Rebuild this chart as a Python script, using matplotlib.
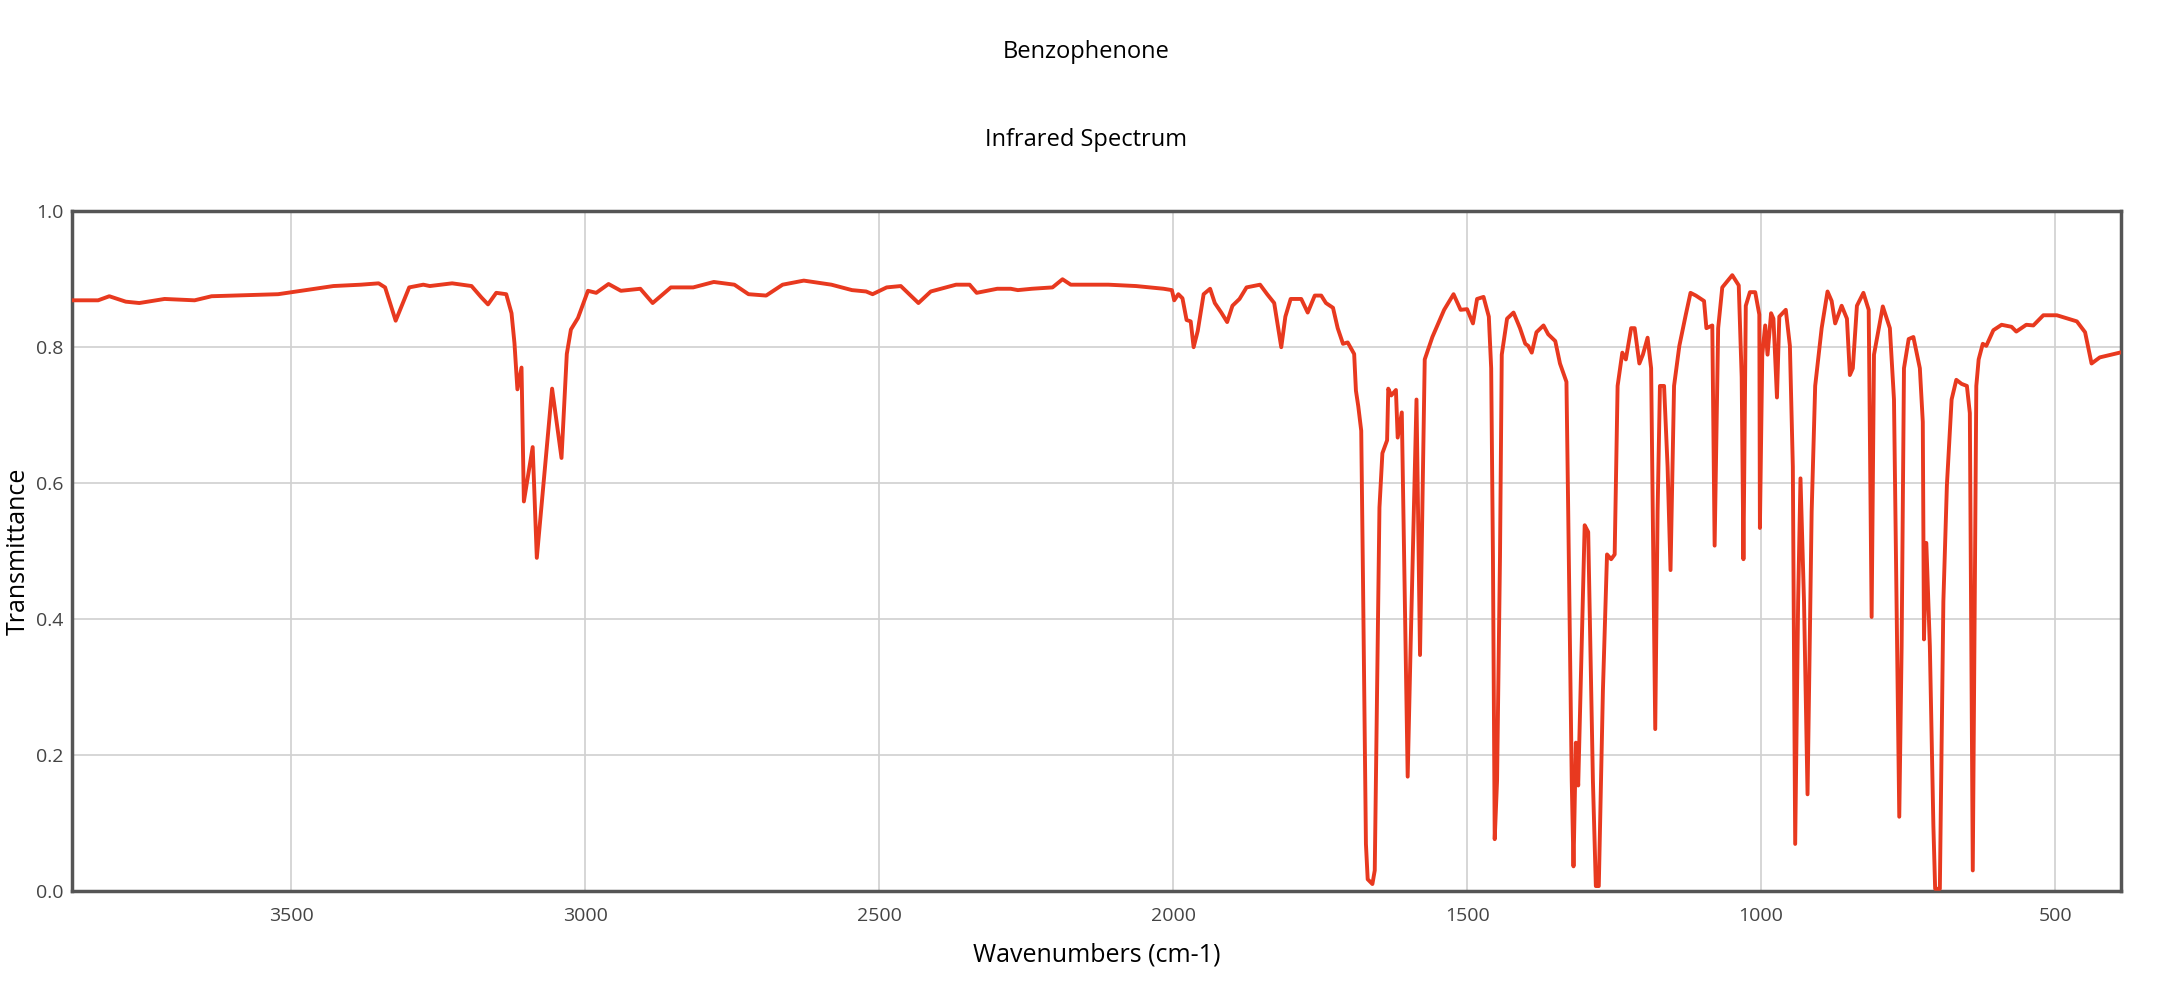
import matplotlib.pyplot as plt

# Wavenumbers (cm-1) and transmittance
wavenumbers = [
    3871, 3828, 3809, 3781, 3758, 3715, 3664, 3635, 3522, 3428, 3381, 3351,
    3340, 3322, 3299, 3275, 3264, 3226, 3193, 3176, 3165, 3151, 3134, 3125,
    3120, 3115, 3108, 3104, 3089, 3082, 3056, 3040, 3031, 3024, 3012, 2995,
    2981, 2960, 2939, 2906, 2885, 2854, 2816, 2781, 2746, 2722, 2692, 2664,
    2628, 2581, 2546, 2522, 2511, 2487, 2463, 2433, 2412, 2369, 2346, 2334,
    2299, 2276, 2264, 2240, 2205, 2188, 2174, 2110, 2063, 2016, 2002, 1998,
    1991, 1984, 1977, 1970, 1965, 1958, 1948, 1937, 1929, 1918, 1908, 1899,
    1887, 1875, 1852, 1840, 1828, 1816, 1809, 1800,
    1782, 1771, 1759, 1748, 1740, 1728, 1720, 1711, 1703, 1692, 1689, 1685,
    1680, 1677, 1672, 1669, 1661, 1657, 1649, 1644, 1636, 1634, 1629, 1621,
    1618, 1611, 1601, 1596, 1586, 1580, 1572, 1559, 1539, 1523, 1511, 1500,
    1490, 1483, 1472, 1463, 1459, 1456, 1453, 1449, 1444, 1441, 1432, 1421,
    1410, 1401, 1396, 1390, 1382, 1370, 1362, 1350, 1342, 1331, 1328, 1322,
    1319, 1315, 1311, 1300, 1294, 1286, 1281, 1276, 1269, 1262, 1255, 1249,
    1244, 1236, 1230, 1221, 1215, 1207, 1201, 1193, 1187, 1180, 1176, 1172,
    1165, 1159, 1154, 1148, 1139, 1128, 1120, 1111, 1097, 1093, 1083, 1079,
    1073, 1066, 1049, 1038, 1033, 1030, 1026, 1019, 1010, 1003, 1002, 998,
    993, 989, 983, 979, 973, 969, 958, 951, 946, 942, 937, 933, 927, 921,
    914, 908, 897, 887, 880, 874, 863, 854, 849, 844, 837, 826, 817, 812,
    808, 793, 781, 774, 765, 761, 757, 749, 741, 730, 725, 723, 719, 713,
    707, 704, 696, 690, 684, 676, 668, 659, 650, 645, 640, 634, 630, 623,
    617, 605, 591, 574, 566, 549, 537, 520, 497, 463, 449, 438, 424, 390,
]
transmittance = [
    .869, .869, .875, .867, .865, .871, .869, .875, .878, .890, .892, .894,
    .888, .839, .888, .892, .890, .894, .890, .873, .863, .880, .878, .850,
    .806, .738, .770, .573, .653, .490, .739, .637, .790, .826, .843, .883,
    .880, .893, .883, .886, .865, .888, .888, .896, .892, .878, .876, .892,
    .898, .892, .884, .882, .878, .888, .890, .865, .882, .892, .892, .880,
    .886, .886, .884, .886, .888, .900, .892, .892, .890, .886, .884, .869,
    .878, .872, .840, .838, .800, .824, .878, .886, .865, .851, .837, .861,
    .871, .888, .892, .878, .865, .800, .845, .871,
    .871, .851, .876, .876, .865, .858, .828, .805, .807, .790, .736, .713,
    .677, .459, .069, .017, .010, .030, .564, .644, .663, .739, .729, .737,
    .667, .704, .168, .360, .723, .347, .782, .815, .855, .878, .855, .856,
    .835, .871, .874, .845, .769, .492, .076, .162, .492, .789, .842, .851,
    .828, .805, .802, .792, .822, .832, .819, .809, .776, .749, .558, .162,
    .036, .218, .155, .538, .528, .162, .007, .007, .294, .495, .488, .495,
    .743, .792, .782, .828, .828, .776, .789, .814, .769, .238, .558, .743,
    .743, .624, .472, .743, .802, .848, .880, .876, .868, .828, .832, .508,
    .828, .888, .906, .891, .756, .488, .861, .881, .881, .848, .534, .789,
    .832, .789, .850, .842, .726, .845, .855, .802, .624, .069, .426, .607,
    .426, .142, .558, .743, .828, .882, .868, .835, .861, .842, .759, .769,
    .861, .880, .855, .403, .789, .860, .828, .723, .109, .360, .769, .812,
    .815, .769, .690, .370, .512, .360, .096, .003, .003, .426, .597, .723,
    .752, .746, .743, .703, .030, .743, .782, .805, .802, .825, .833, .830,
    .823, .833, .832, .847, .847, .838, .822, .776, .785, .792,
]
x_ticks = [3500, 3000, 2500, 2000, 1500, 1000, 500]
y_ticks = [0.0, 0.2, 0.4, 0.6, 0.8, 1.0]

plt.rcParams['font.family'] = ['Open Sans', 'DejaVu Sans']

fig = plt.figure(figsize=(21.72, 9.92), dpi=100)
ax = fig.add_axes([0.033, 0.102, 0.9435, 0.685])

ax.plot(wavenumbers, transmittance, color='#e8391f', linewidth=2.8, zorder=3)

ax.set_xlim(3873, 388)
ax.set_ylim(0, 1)
ax.set_xticks(x_ticks)
ax.set_yticks(y_ticks)
ax.set_yticklabels([f'{v:.1f}' for v in y_ticks])
ax.tick_params(length=0, labelsize=14, colors='#444444')
ax.tick_params(axis='x', pad=12)
ax.tick_params(axis='y', pad=6)
ax.grid(True, color='#d0d0d0', linewidth=1.2)
for s in ax.spines.values():
    s.set_color('#555555')
    s.set_linewidth(2.5)

ax.set_xlabel('Wavenumbers (cm-1)', fontsize=18, labelpad=12)
ax.set_ylabel('Transmittance', fontsize=18, labelpad=4)

fig.text(0.5, 0.948, 'Benzophenone', ha='center', va='center', fontsize=17)
fig.text(0.5, 0.859, 'Infrared Spectrum', ha='center', va='center', fontsize=17)

fig.savefig('out.png', dpi=100)
